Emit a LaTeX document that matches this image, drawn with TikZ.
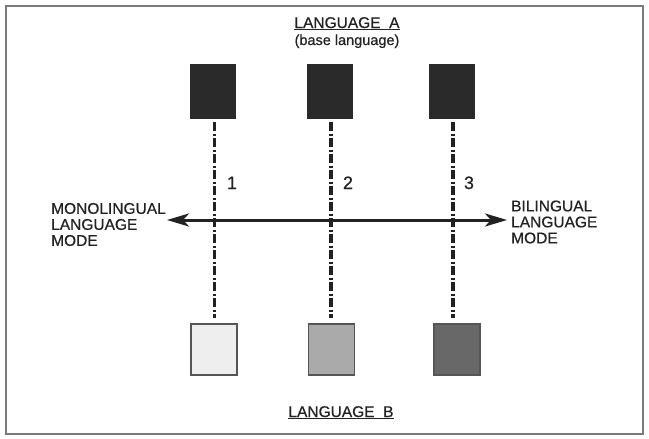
\documentclass[tikz,border=0pt]{standalone}
\usepackage{fontspec}
\setmainfont{Liberation Sans}[FakeBold=0.6]
\usetikzlibrary{arrows.meta,positioning}
\definecolor{frame}{HTML}{7A7A7A}
\definecolor{topsq}{HTML}{2A2A2A}
\definecolor{sqA}{HTML}{EEEEEE}
\definecolor{sqB}{HTML}{AAAAAA}
\definecolor{sqC}{HTML}{686868}
\definecolor{edge}{HTML}{555555}
\definecolor{ink}{HTML}{222222}
\tikzset{
  topbox/.style={draw=white,line width=0.6pt,fill=topsq,minimum width=47pt,minimum height=56pt,inner sep=0pt},
  botbox/.style={draw=edge,line width=1.6pt,minimum width=46pt,minimum height=51pt,inner sep=0pt},
  txt/.style={font=\fontsize{15.5}{16}\selectfont\addfontfeatures{FakeBold=0.6},text=ink,inner sep=0pt},
  numtxt/.style={font=\fontsize{18}{18}\selectfont\addfontfeatures{FakeBold=0.6},text=ink,inner sep=0pt,anchor=base},
  modetxt/.style={txt,align=left,anchor=west},
  dashdot/.style={line width=3.5pt,ink,dash pattern=on 9pt off 2.5pt on 2pt off 2.5pt,shorten >=5pt},
  axis/.style={line width=3pt,ink,{Stealth[length=22pt,width=13pt,inset=6pt]}-{Stealth[length=22pt,width=13pt,inset=6pt]}}
}
\begin{document}
\begin{tikzpicture}[x=1pt,y=-1pt]
\useasboundingbox (0,0) rectangle (649,439);
\draw[frame,line width=2pt] (5.5,5.5) rectangle (642.5,433.5);
% titles
\node[txt,anchor=base] (la) at (347,28) {\underline{LANGUAGE\ \ A}};
\node[txt,anchor=base,font=\fontsize{14.5}{15}\selectfont\addfontfeatures{FakeBold=0.6}] (base) at (347,45) {(base language)};
\node[txt,anchor=base] (lb) at (341,417) {\underline{LANGUAGE\ \ B}};
% top squares
\node[topbox] (t1) at (212.5,91) {};
\node[topbox] (t2) at (329.5,91) {};
\node[topbox] (t3) at (451.5,91) {};
% bottom squares
\node[botbox,fill=sqA] (b1) at (214,349.5) {};
\node[botbox,fill=sqB] (b2) at (331.5,349.5) {};
\node[botbox,fill=sqC] (b3) at (457,349.5) {};
% dash-dot lines
\draw[dashdot] ([xshift=2pt,yshift=-3pt]t1.south) -- ([xshift=2pt]t1.south |- b1.north);
\draw[dashdot] ([xshift=1.5pt,yshift=-3pt]t2.south) -- ([xshift=1.5pt]t2.south |- b2.north);
\draw[dashdot] ([xshift=1.5pt,yshift=-3pt]t3.south) -- ([xshift=1.5pt]t3.south |- b3.north);
% mode labels
\node[modetxt] (mono) at (51,224.5) {MONOLINGUAL\\LANGUAGE\\MODE};
\node[modetxt] (bi) at (511,222) {BILINGUAL\\LANGUAGE\\MODE};
\coordinate (al) at (167,220);
\coordinate (ar) at (507,220);
\draw[axis] (al) -- (ar);
% numbers
\node[numtxt] (n1) at (232,189) {1};
\node[numtxt] (n2) at (348,189) {2};
\node[numtxt] (n3) at (469,189) {3};
\end{tikzpicture}
\end{document}
